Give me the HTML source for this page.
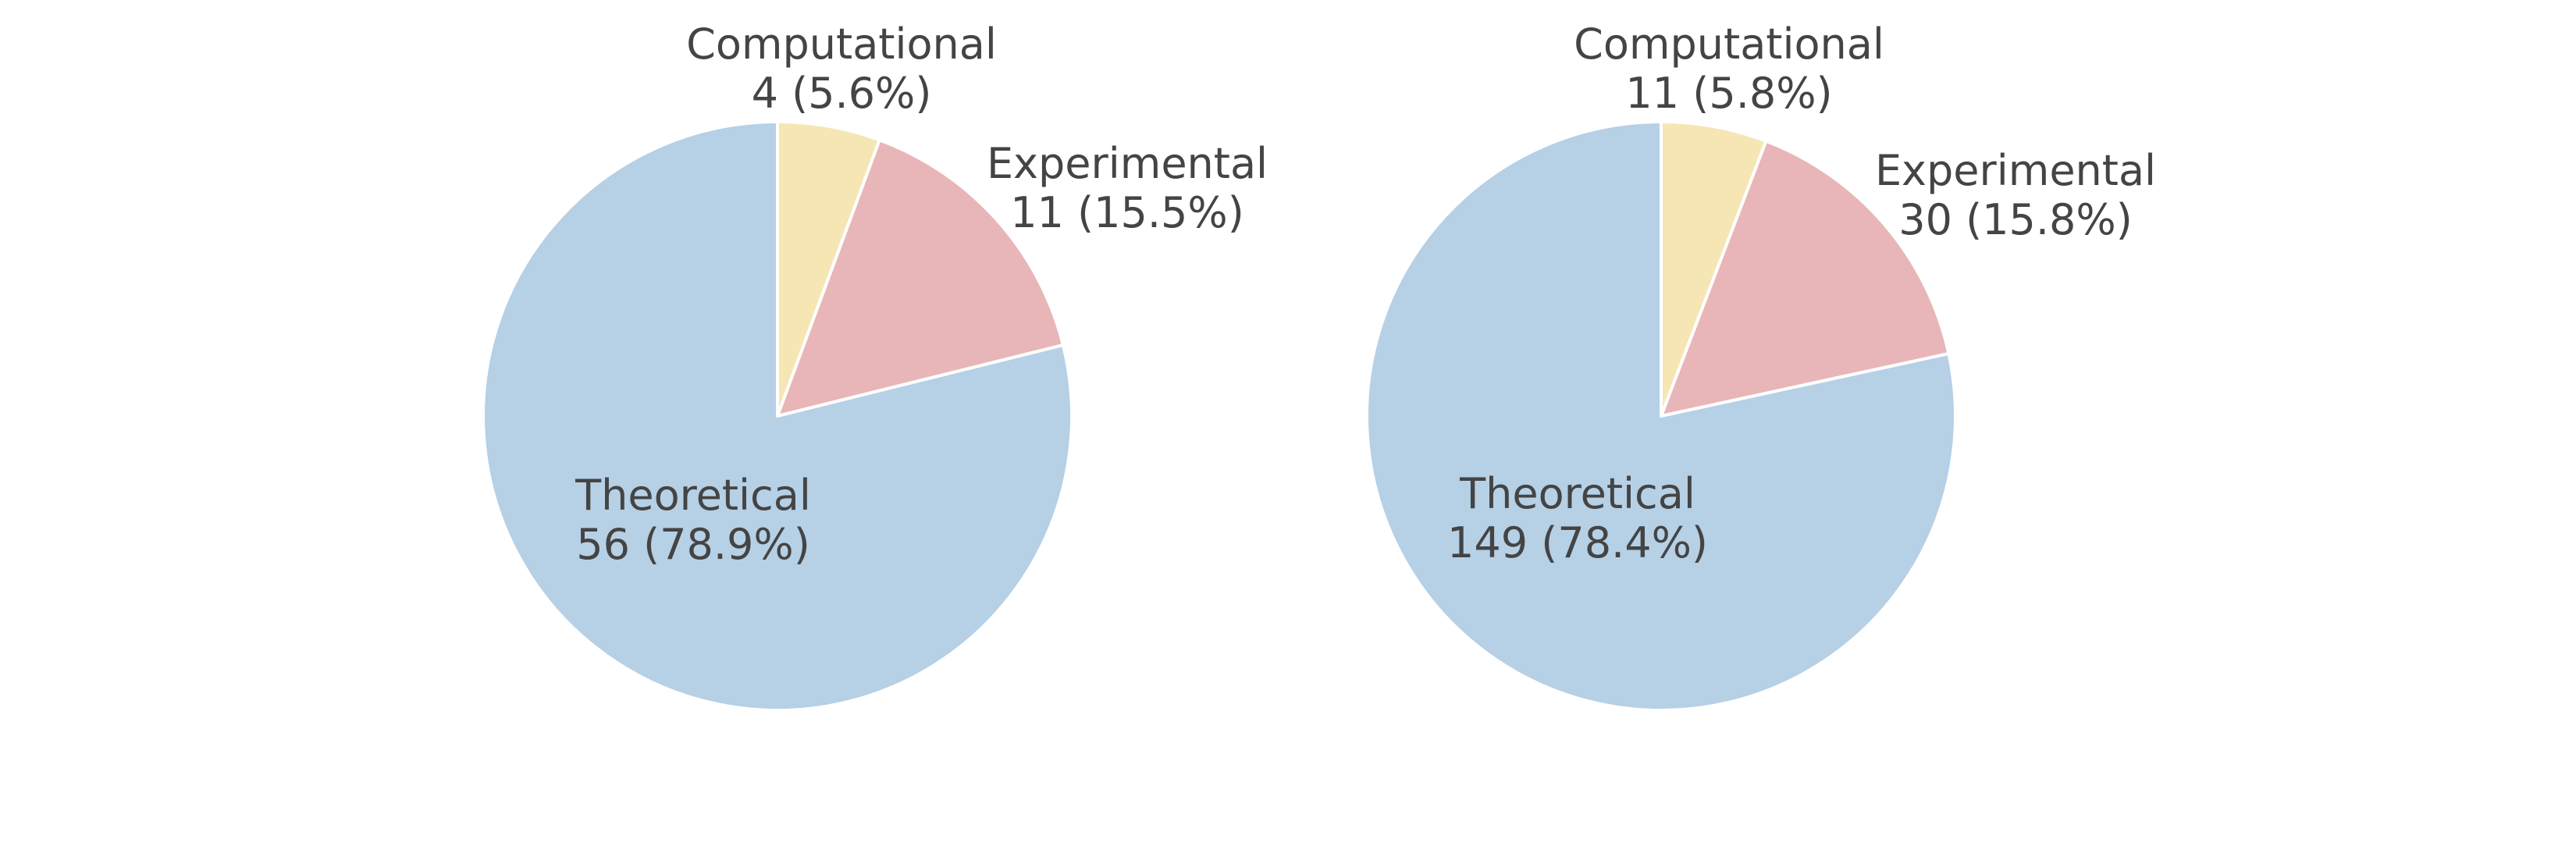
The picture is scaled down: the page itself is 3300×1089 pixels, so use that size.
<!DOCTYPE html>
<html><head><meta charset="utf-8"><style>
html,body{margin:0;padding:0;background:#fff;}
svg text{font-family:"DejaVu Sans","Liberation Sans",sans-serif;font-size:54px;fill:#444;text-anchor:middle;}
</style></head><body>
<svg width="3300" height="1084" viewBox="0 0 3300 1084" xmlns="http://www.w3.org/2000/svg">
<rect width="3300" height="1084" fill="#fff"/>
<g stroke="#fff" stroke-width="4" stroke-linejoin="round">
<path d="M996,533 L996,156 A377,377 0 0,1 1126.7,179.4 Z" fill="#f6e6b4"/>
<path d="M996,533 L1126.7,179.4 A377,377 0 0,1 1361.9,442.1 Z" fill="#e8b6b8"/>
<path d="M996,533 L1361.9,442.1 A377,377 0 1,1 996,156 Z" fill="#b6d0e6"/>
<path d="M2128,533 L2128,156 A377,377 0 0,1 2262.4,180.8 Z" fill="#f6e6b4"/>
<path d="M2128,533 L2262.4,180.8 A377,377 0 0,1 2496.4,453.1 Z" fill="#e8b6b8"/>
<path d="M2128,533 L2496.4,453.1 A377,377 0 1,1 2128,156 Z" fill="#b6d0e6"/>
</g>
<text x="1078" y="75">Computational</text>
<text x="1078" y="138">4 (5.6%)</text>
<text x="1444" y="228">Experimental</text>
<text x="1444" y="291">11 (15.5%)</text>
<text x="888" y="653">Theoretical</text>
<text x="888" y="716">56 (78.9%)</text>
<text x="2215" y="75">Computational</text>
<text x="2215" y="138">11 (5.8%)</text>
<text x="2582" y="237">Experimental</text>
<text x="2582" y="300">30 (15.8%)</text>
<text x="2021" y="651">Theoretical</text>
<text x="2021" y="714">149 (78.4%)</text>
</svg>
</body></html>
